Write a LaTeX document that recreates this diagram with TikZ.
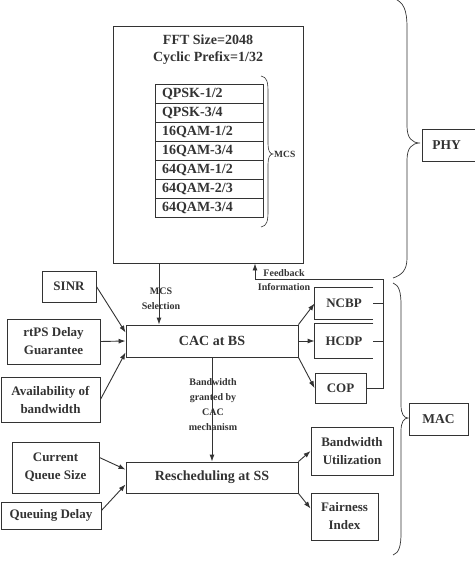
\documentclass[tikz,border=0pt]{standalone}
\usepackage{fontspec}
\setmainfont{Liberation Serif}
\usepackage{tikz}
\usetikzlibrary{arrows.meta,positioning,calc}

\tikzset{
  box/.style={draw, line width=0.9pt, align=center, inner sep=1pt,
    font=\fontsize{13}{18}\selectfont\bfseries},
  openbox/.style={box, draw=none},
  mainbox/.style={box, font=\fontsize{14}{17}\selectfont\bfseries},
  mcsrow/.style={draw, line width=0.8pt, text width=94pt, align=left, inner xsep=7pt,
    minimum height=19pt, inner ysep=0pt, font=\fontsize{14}{16}\selectfont\bfseries},
  small/.style={align=center, inner sep=0pt, font=\fontsize{10}{15}\selectfont\bfseries},
  link/.style={line width=0.9pt, ->},
  >={Latex[length=7pt,width=5pt]}
}

\begin{document}
\begin{tikzpicture}[x=1pt,y=-1pt,color=black!80]
\useasboundingbox (0,0) rectangle (474,575);

% PHY block
\node[draw, line width=0.9pt, minimum width=190pt, minimum height=237pt] (phyblock) at (208,144.5) {};
\node[small, font=\fontsize{14}{17}\selectfont\bfseries] (ofdm) at (208,50) {FFT Size=2048\\Cyclic Prefix=1/32};
\foreach \lbl [count=\i] in {QPSK-1/2,QPSK-3/4,16QAM-1/2,16QAM-3/4,64QAM-1/2,64QAM-2/3,64QAM-3/4}
  \node[mcsrow] (m\i) at (209,75+19*\i) {\lbl};
\draw[line width=0.6pt] (261,76) .. controls (267,77) and (268,82) .. (268,92) -- (268,144)
  .. controls (268,151) and (270,154) .. (273,154) .. controls (270,154) and (268,157) .. (268,164)
  -- (268,211) .. controls (268,221) and (267,226) .. (261,227);
\node[small, font=\fontsize{9.5}{11}\selectfont\bfseries, anchor=west] (mcslbl) at (274,154) {MCS};

% CAC inputs and outputs
\node[box, minimum width=54pt, minimum height=31pt] (sinr) at (69,286.5) {SINR};
\node[box, minimum width=93pt, minimum height=45pt] (rtps) at (53.5,341.5) {rtPS Delay\\Guarantee};
\node[box, minimum width=99pt, minimum height=45pt] (avail) at (50.5,399.5) {Availability of\\bandwidth};
\node[mainbox, minimum width=172pt, minimum height=32pt] (cac) at (212,341) {CAC at BS};
\node[openbox, minimum width=58pt, minimum height=31pt] (ncbp) at (344,303.5) {NCBP};
\node[openbox, minimum width=58pt, minimum height=34pt] (hcdp) at (344,341) {HCDP};
\node[box, minimum width=51pt, minimum height=30pt] (cop) at (340.5,388) {COP};
\foreach \b in {ncbp,hcdp}
  \draw[line width=0.9pt] (\b.north east) -- (\b.north west) -- (\b.south west) -- (\b.south east);

% Rescheduling inputs and outputs
\node[box, minimum width=87pt, minimum height=51pt] (cqs) at (55.5,467.5) {Current\\Queue Size};
\node[box, minimum width=100pt, minimum height=27pt] (qdelay) at (51,515.5) {Queuing Delay};
\node[mainbox, minimum width=172pt, minimum height=31pt] (resched) at (212,477.5) {Rescheduling at SS};
\node[box, minimum width=82pt, minimum height=48pt] (bwutil) at (352,451) {Bandwidth\\Utilization};
\node[box, minimum width=67pt, minimum height=47pt] (fairness) at (344.5,516.5) {Fairness\\Index};

% layer labels
\node[box, anchor=west, text width=40pt, align=left, inner xsep=10pt, minimum height=32pt,
  font=\fontsize{13.5}{16}\selectfont\bfseries] (phy) at (422,145) {PHY};
\node[box, minimum width=59pt, minimum height=32pt, font=\fontsize{13.5}{16}\selectfont\bfseries] (mac) at (438.5,419) {MAC};
\draw[line width=0.7pt] (393,-2) .. controls (404,2) and (407,10) .. (407,28) -- (407,126)
  .. controls (407,138) and (412,143) .. (420,143) .. controls (412,143) and (407,148) .. (407,160)
  -- (407,258) .. controls (407,270) and (402,275) .. (393,278);
\draw[line width=0.7pt] (393,283) .. controls (399,285) and (401,292) .. (401,305) -- (401,405)
  .. controls (401,414) and (404,418) .. (408,418) .. controls (404,418) and (401,422) .. (401,431)
  -- (401,533) .. controls (401,546) and (399,553) .. (393,555);

% connectors
\draw[link] (sinr.east) -- ([yshift=-8pt]cac.north west);
\draw[link] (rtps.east) -- (cac.west);
\draw[link] (avail.east) -- ([yshift=5pt]cac.south west);
\draw[link] (cac.north east) -- (ncbp.west);
\draw[link] (cac.east) -- (hcdp.west);
\draw[link] (cac.south east) -- (cop.west);
\draw[link] ([xshift=-53pt]cac.north |- phyblock.south) -- ([xshift=-53pt]cac.north);
\node[small] (mcssel) at (161,299) {MCS\\Selection};

\coordinate (fbbus) at (383,279);
\draw[link] (cop.east) -| (fbbus) -| ([xshift=47pt]phyblock.south);
\draw[line width=0.9pt] (ncbp.east) -- (ncbp.east -| fbbus);
\draw[line width=0.9pt] (hcdp.east) -- (hcdp.east -| fbbus);
\node[small, font=\fontsize{10}{14}\selectfont\bfseries] (fbinfo) at (284,280) {Feedback\\Information};

\draw[link] (cac.south) -- (resched.north);
\node[small] (bwgrant) at (213,404.5) {Bandwidth\\granted by\\CAC\\mechanism};

\draw[link] ([yshift=10pt]cqs.east) -- ([yshift=-8pt]resched.north west);
\draw[link] ([yshift=5pt]qdelay.east) -- ([yshift=9pt]resched.south west);
\draw[link] (resched.north east) -- (bwutil.west);
\draw[link] (resched.south east) -- ([yshift=8pt]fairness.west);
\end{tikzpicture}
\end{document}
